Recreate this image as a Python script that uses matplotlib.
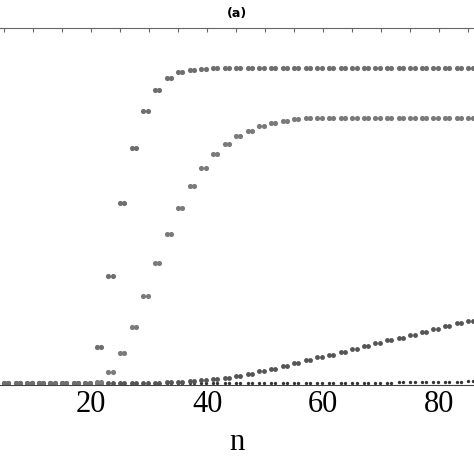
import matplotlib
matplotlib.use("Agg")
import matplotlib.pyplot as plt
import numpy as np

n_base = list(range(1, 89, 2))  # 44 values
pair_offset = 0.75

s1 = [0]*10 + [0.114, 0.339, 0.573, 0.747, 0.864, 0.930, 0.968, 0.987, 0.994, 0.998] + [1.0]*24
s2 = [0]*10 + [0.003, 0.035, 0.095, 0.18, 0.278, 0.38, 0.475, 0.557, 0.627, 0.684, 0.728, 0.76, 0.785,
               0.80, 0.815, 0.826, 0.833, 0.838, 0.841] + [0.842]*15
s3 = [0]*14 + [0.001, 0.002, 0.003, 0.005, 0.007, 0.010, 0.013, 0.018, 0.024, 0.031, 0.038, 0.046,
               0.055, 0.064, 0.073, 0.082, 0.091, 0.100, 0.109, 0.118, 0.127, 0.136, 0.145, 0.154,
               0.163, 0.172, 0.181, 0.190, 0.199, 0.208]
s4 = [0]*32 + [0.001, 0.001, 0.002, 0.002, 0.003, 0.003, 0.004, 0.004, 0.005, 0.005, 0.006, 0.006]

xticks = [20, 40, 60, 80]

def pairs(vals):
    xs, ys = [], []
    for n, v in zip(n_base, vals):
        xs += [n, n + pair_offset]
        ys += [v, v]
    return xs, ys

fig = plt.figure(figsize=(4.74, 4.74), dpi=100)
ax = fig.add_axes([0.0, 0.188, 1.0, 0.753])
for vals, c, ms in [(s4, '#333333', 2.4), (s3, '#555555', 3.5), (s2, '#7a7a7a', 3.7), (s1, '#6e6e6e', 3.7)]:
    xs, ys = pairs(vals)
    ax.plot(xs, ys, 'o', color=c, ms=ms, mec='none')

ax.set_xlim(4.3, 86)
ax.set_ylim(-0.005, 1.127)
ax.set_xticks(xticks)
ax.set_xticklabels([str(t) for t in xticks], family='Liberation Serif', fontsize=22)
ax.tick_params(axis='x', length=0, pad=4)
ax.set_yticks([])
ax.set_xlabel('n', family='Liberation Serif', fontsize=22, labelpad=6)
for s in ['left', 'right']:
    ax.spines[s].set_visible(False)
ax.spines['top'].set_color('#666666')
ax.spines['bottom'].set_color('#444444')
top = ax.secondary_xaxis('top')
top.set_xticks(np.arange(5, 90, 5))
top.set_xticklabels([])
top.tick_params(direction='in', length=3, color='#666666')
top.spines['top'].set_visible(False)
fig.text(0.5, 0.972, '(a)', ha='center', va='center', fontsize=9, fontweight='bold', family='DejaVu Sans')
fig.savefig('out.png', dpi=100)
